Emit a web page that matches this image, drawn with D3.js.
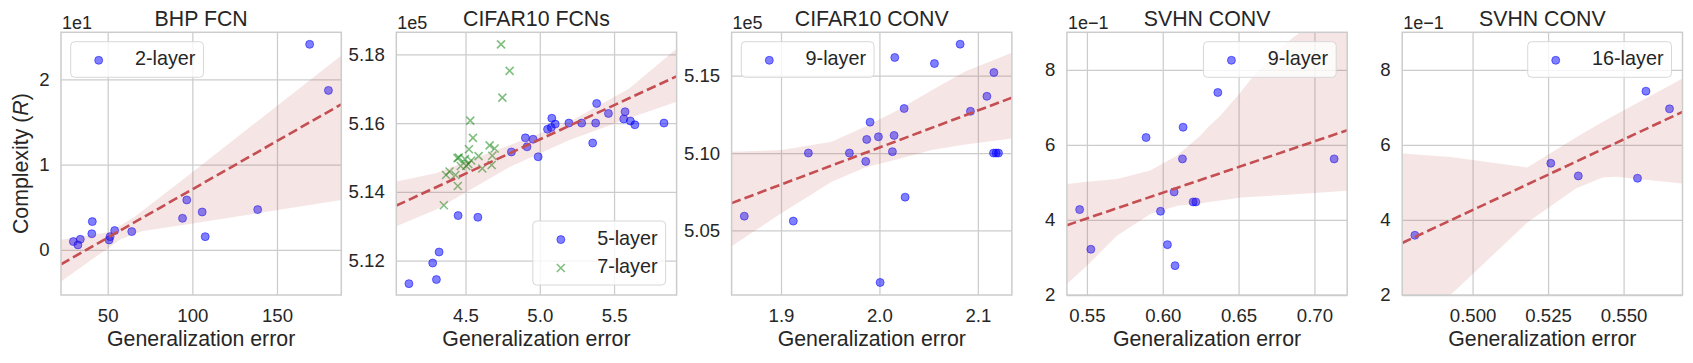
<!DOCTYPE html>
<html>
<head>
<meta charset="utf-8">
<script src="https://cdn.jsdelivr.net/npm/d3@7"></script>
<style>
  body { margin: 0; background: #fff; }
  text { font-family: "Liberation Sans", Arial, sans-serif; fill: #262626; }
</style>
</head>
<body>
<div id="d3-container"></div>
<script>
// ---- data (y values in the units shown on the axis) ----

// BHP FCN, 2-layer (y in 1e1)
const bhpX = [169.3, 180.4, 96.7, 94.2, 105.8, 107.6, 138.6, 40.9, 40.6, 54.1, 64.2, 51.4, 50.8, 33.8, 29.7, 32.4];
const bhpY = [2.41, 1.87, 0.586, 0.371, 0.445, 0.156, 0.473, 0.332, 0.19, 0.227, 0.215, 0.156, 0.117, 0.125, 0.098, 0.059];
const bhpFitX = [22.4, 188];
const bhpFitY = [-0.168, 1.707];
const bhpBandX = [22.4, 45, 51, 57, 66, 70, 100, 188];
const bhpBandLo = [-0.371, -0.05, 0.03, 0.12, 0.19, 0.22, 0.31, 0.586];
const bhpBandHi = [0.12, 0.19, 0.21, 0.28, 0.39, 0.45, 0.91, 2.28];

// CIFAR10 FCNs (y in 1e5)
const cfc5X = [4.119, 4.304, 4.279, 4.322, 4.450, 4.583, 4.809, 4.903, 4.914, 4.955, 4.989, 5.052, 5.077,
  5.081, 5.104, 5.196, 5.282, 5.356, 5.376, 5.383, 5.462, 5.565, 5.574, 5.610, 5.640, 5.836];
const cfc5Y = [5.1133, 5.1145, 5.1193, 5.1225, 5.1331, 5.1326, 5.1516, 5.1557, 5.1531, 5.1553, 5.1502, 5.1582, 5.1587,
  5.1614, 5.1597, 5.1600, 5.1600, 5.1542, 5.1600, 5.1657, 5.1628, 5.1612, 5.1633, 5.1606, 5.1595, 5.1600];
const cfc7X = [4.739, 4.797, 4.748, 4.532, 4.550, 4.523, 4.662, 4.696, 4.680, 4.588, 4.446, 4.455,
  4.496, 4.538, 4.518, 4.468, 4.505, 4.676, 4.613, 4.392, 4.369, 4.432, 4.448, 4.354];
const cfc7Y = [5.1829, 5.1752, 5.1674, 5.1607, 5.1557, 5.1524, 5.1535, 5.1526, 5.1505, 5.1504, 5.1498, 5.1500,
  5.1495, 5.1491, 5.1481, 5.1475, 5.1475, 5.1478, 5.1468, 5.1459, 5.1449, 5.1449, 5.1417, 5.1361];
const cfcFitX = [4.034, 5.921];
const cfcFitY = [5.136, 5.1736];
const cfcBandX = [4.034, 4.3, 4.8, 5.2, 5.6, 5.921];
const cfcBandLo = [5.130, 5.1348, 5.1473, 5.1551, 5.1614, 5.1662];
const cfcBandHi = [5.143, 5.1454, 5.1536, 5.1604, 5.1700, 5.1816];

// CIFAR10 CONV, 9-layer (y in 1e5)
const ccX = [1.8627, 1.9125, 1.9278, 1.9695, 1.9861, 1.9871, 1.9905, 1.9990, 2.0007, 2.0132, 2.0149,
  2.0156, 2.0251, 2.0261, 2.0559, 2.0820, 2.0925, 2.1092, 2.1163, 2.1159, 2.1186, 2.1210];
const ccY = [5.0592, 5.0560, 5.1000, 5.1000, 5.0946, 5.1088, 5.1200, 5.1105, 5.0163, 5.1009, 5.1114,
  5.1618, 5.1288, 5.0715, 5.1579, 5.1704, 5.1270, 5.1367, 5.1521, 5.1000, 5.1000, 5.1000];
const ccFitX = [1.8498, 2.1346];
const ccFitY = [5.0676, 5.1358];
const ccBandX = [1.8498, 1.9007, 1.9515, 1.9854, 2.0193, 2.0532, 2.0871, 2.1346];
const ccBandLo = [5.0397, 5.0612, 5.0815, 5.0906, 5.0961, 5.1019, 5.1056, 5.1094];
const ccBandHi = [5.1009, 5.1019, 5.1073, 5.1170, 5.1280, 5.1406, 5.1528, 5.1648];

// SVHN CONV, 9-layer (y in 1e-1)
const sv9X = [0.5452, 0.5526, 0.5890, 0.5985, 0.6031, 0.6081, 0.6075, 0.6130, 0.6134, 0.6200, 0.6218, 0.6363, 0.7130];
const sv9Y = [4.276, 3.218, 6.196, 4.231, 3.342, 2.782, 4.747, 5.627, 6.471, 4.480, 4.480, 7.396, 5.627];
const sv9FitX = [0.5368, 0.7216];
const sv9FitY = [3.86, 6.39];
const sv9BandX = [0.5368, 0.55, 0.5698, 0.5918, 0.6095, 0.6249, 0.6293, 0.6381, 0.6513, 0.66, 0.6822, 0.70, 0.7216];
const sv9BandLo = [2.29, 2.78, 3.58, 4.16, 4.38, 4.44, 4.47, 4.52, 4.60, 4.62, 4.67, 4.72, 4.78];
const sv9BandHi = [4.96, 5.02, 5.09, 5.32, 5.72, 6.25, 6.45, 6.78, 7.40, 7.85, 8.74, 9.30, 10.5];

// SVHN CONV, 16-layer (y in 1e-1)
const sv16X = [0.4809, 0.5259, 0.5350, 0.5546, 0.5574, 0.5652];
const sv16Y = [3.591, 5.511, 5.173, 5.111, 7.431, 6.960];
const sv16FitX = [0.4767, 0.5695];
const sv16FitY = [3.387, 6.88];
const sv16BandX = [0.4767, 0.4927, 0.5181, 0.5342, 0.5430, 0.5475, 0.5695];
const sv16BandLo = [0.85, 2.00, 3.93, 4.84, 5.13, 5.15, 4.97];
const sv16BandHi = [5.77, 5.68, 5.40, 6.20, 6.61, 6.81, 7.77];

// ---- layout ----
const width = 1693;
const height = 363;
const plotLeft = 61;
const plotStep = 335.3;
const plotW = 280.3;
const plotTop = 32.3;
const plotH = 262.7;

const blue = "#0000ff";
const green = "#008000";
const red = "#c44e52";
const gridColor = "#cccccc";

const zip = (xs, ys) => xs.map((x, i) => ({ x, y: ys[i] }));
const band = (xs, lo, hi) => xs.map((x, i) => ({ x, lo: lo[i], hi: hi[i] }));

const panels = [
  {
    title: "BHP FCN", offset: "1e1", xDomain: [22.4, 188], yDomain: [-0.528, 2.551],
    xTicks: [50, 100, 150], xFmt: "d", yTicks: [0, 1, 2], yFmt: "d",
    series: [{ label: "2-layer", kind: "dot", pts: zip(bhpX, bhpY) }],
    fit: zip(bhpFitX, bhpFitY), band: band(bhpBandX, bhpBandLo, bhpBandHi), legend: "ul"
  },
  {
    title: "CIFAR10 FCNs", offset: "1e5", xDomain: [4.034, 5.921], yDomain: [5.110, 5.1864],
    xTicks: [4.5, 5.0, 5.5], xFmt: ".1f", yTicks: [5.12, 5.14, 5.16, 5.18], yFmt: ".2f",
    series: [
      { label: "5-layer", kind: "dot", pts: zip(cfc5X, cfc5Y) },
      { label: "7-layer", kind: "x", pts: zip(cfc7X, cfc7Y) }
    ],
    fit: zip(cfcFitX, cfcFitY), band: band(cfcBandX, cfcBandLo, cfcBandHi), legend: "lr"
  },
  {
    title: "CIFAR10 CONV", offset: "1e5", xDomain: [1.8498, 2.1346], yDomain: [5.0082, 5.1781],
    xTicks: [1.9, 2.0, 2.1], xFmt: ".1f", yTicks: [5.05, 5.10, 5.15], yFmt: ".2f",
    series: [{ label: "9-layer", kind: "dot", pts: zip(ccX, ccY) }],
    fit: zip(ccFitX, ccFitY), band: band(ccBandX, ccBandLo, ccBandHi), legend: "ul"
  },
  {
    title: "SVHN CONV", offset: "1e\u22121", xDomain: [0.5368, 0.7216], yDomain: [2, 9.0],
    xTicks: [0.55, 0.60, 0.65, 0.70], xFmt: ".2f", yTicks: [2, 4, 6, 8], yFmt: "d",
    series: [{ label: "9-layer", kind: "dot", pts: zip(sv9X, sv9Y) }],
    fit: zip(sv9FitX, sv9FitY), band: band(sv9BandX, sv9BandLo, sv9BandHi), legend: "ur"
  },
  {
    title: "SVHN CONV", offset: "1e\u22121", xDomain: [0.4767, 0.5695], yDomain: [2, 9.0],
    xTicks: [0.500, 0.525, 0.550], xFmt: ".3f", yTicks: [2, 4, 6, 8], yFmt: "d",
    series: [{ label: "16-layer", kind: "dot", pts: zip(sv16X, sv16Y) }],
    fit: zip(sv16FitX, sv16FitY), band: band(sv16BandX, sv16BandLo, sv16BandHi), legend: "ur"
  }
];

const svg = d3
  .select("#d3-container")
  .append("svg")
  .attr("width", width)
  .attr("height", height);

svg.append("rect").attr("width", width).attr("height", height).attr("fill", "#fff");

function drawMarker(sel, kind) {
  if (kind === "dot") {
    sel.append("circle")
      .attr("r", 4)
      .attr("fill", blue).attr("fill-opacity", 0.5)
      .attr("stroke", blue).attr("stroke-opacity", 0.5).attr("stroke-width", 1);
  } else {
    sel.append("path")
      .attr("d", "M-4,-4L4,4M-4,4L4,-4")
      .attr("fill", "none")
      .attr("stroke", green).attr("stroke-opacity", 0.5).attr("stroke-width", 1.6);
  }
}

panels.forEach((p, i) => {
  const chart = svg.append("g")
    .attr("transform", `translate(${plotLeft + i * plotStep}, ${plotTop})`);

  const x = d3.scaleLinear().domain(p.xDomain).range([0, plotW]);
  const y = d3.scaleLinear().domain(p.yDomain).range([plotH, 0]);

  chart.append("clipPath").attr("id", `clip${i}`)
    .append("rect").attr("width", plotW).attr("height", plotH);

  // grid
  chart.append("g")
    .attr("transform", `translate(0, ${plotH})`)
    .call(d3.axisBottom(x).tickValues(p.xTicks).tickSize(-plotH).tickFormat(""))
    .call(g => g.select(".domain").remove())
    .selectAll("line").attr("stroke", gridColor).attr("stroke-width", 1.25);
  chart.append("g")
    .call(d3.axisLeft(y).tickValues(p.yTicks).tickSize(-plotW).tickFormat(""))
    .call(g => g.select(".domain").remove())
    .selectAll("line").attr("stroke", gridColor).attr("stroke-width", 1.25);

  const plot = chart.append("g").attr("clip-path", `url(#clip${i})`);

  // points
  p.series.forEach(s => {
    plot.append("g")
      .selectAll("g")
      .data(s.pts)
      .enter()
      .append("g")
      .attr("transform", d => `translate(${x(d.x)}, ${y(d.y)})`)
      .call(sel => drawMarker(sel, s.kind));
  });

  // confidence band and fitted line
  plot.append("path")
    .datum(p.band)
    .attr("fill", red)
    .attr("fill-opacity", 0.15)
    .attr("d", d3.area().x(d => x(d.x)).y0(d => y(d.lo)).y1(d => y(d.hi)));

  plot.append("path")
    .datum(p.fit)
    .attr("fill", "none")
    .attr("stroke", red)
    .attr("stroke-width", 2.6)
    .attr("stroke-dasharray", "9.6,4.2")
    .attr("d", d3.line().x(d => x(d.x)).y(d => y(d.y)));

  // spines
  chart.append("rect")
    .attr("width", plotW).attr("height", plotH)
    .attr("fill", "none").attr("stroke", gridColor).attr("stroke-width", 1.5);

  // axes labels
  chart.append("g")
    .attr("transform", `translate(0, ${plotH})`)
    .call(d3.axisBottom(x).tickValues(p.xTicks).tickSize(0).tickPadding(13.6).tickFormat(d3.format(p.xFmt)))
    .call(g => g.select(".domain").remove())
    .attr("font-family", null).attr("font-size", null)
    .selectAll("text").style("font-size", "18.6px").attr("fill", null);

  chart.append("g")
    .call(d3.axisLeft(y).tickValues(p.yTicks).tickSize(0).tickPadding(11.5).tickFormat(d3.format(p.yFmt)))
    .call(g => g.select(".domain").remove())
    .attr("font-family", null).attr("font-size", null)
    .selectAll("text").style("font-size", "18.6px").attr("fill", null);

  chart.append("text")
    .attr("x", plotW / 2).attr("y", plotH + 51)
    .attr("text-anchor", "middle")
    .style("font-size", "21.3px")
    .text("Generalization error");

  chart.append("text")
    .attr("x", plotW / 2).attr("y", -6.6)
    .attr("text-anchor", "middle")
    .style("font-size", "21.3px")
    .text(p.title);

  chart.append("text")
    .attr("x", 1).attr("y", -3)
    .style("font-size", "18px")
    .text(p.offset);

  if (i === 0) {
    const yl = chart.append("text")
      .attr("transform", `translate(${27.5 - plotLeft}, ${plotH / 2}) rotate(-90)`)
      .attr("text-anchor", "middle")
      .style("font-size", "21.3px");
    yl.append("tspan").text("Complexity (");
    yl.append("tspan").style("font-style", "italic").text("R");
    yl.append("tspan").text(")");
  }

  // legend
  const legend = chart.append("g");
  const items = legend.selectAll(".legend-item")
    .data(p.series)
    .enter()
    .append("g")
    .attr("class", "legend-item")
    .attr("transform", (d, k) => `translate(0, ${k * 28.4})`);

  items.append("g")
    .attr("transform", "translate(28, 18.6)")
    .each(function (d) { drawMarker(d3.select(this), d.kind); });

  const labels = items.append("text")
    .attr("x", 64.3).attr("y", 23.6)
    .style("font-size", "19.8px")
    .text(d => d.label);

  let textW = 0;
  labels.each(function () { textW = Math.max(textW, this.getComputedTextLength()); });
  const boxW = 64.3 + textW + 8;
  const boxH = 35.6 + 28.4 * (p.series.length - 1);

  legend.insert("rect", ":first-child")
    .attr("width", boxW).attr("height", boxH)
    .attr("rx", 4).attr("ry", 4)
    .attr("fill", "#fff").attr("fill-opacity", 0.8)
    .attr("stroke", "#d8d8d8").attr("stroke-width", 1);

  let lx = 9.7, ly = 9.4;
  if (p.legend === "ur" || p.legend === "lr") lx = plotW - 11 - boxW;
  if (p.legend === "lr") ly = plotH - 10 - boxH;
  legend.attr("transform", `translate(${lx}, ${ly})`);
});
</script>
</body>
</html>
